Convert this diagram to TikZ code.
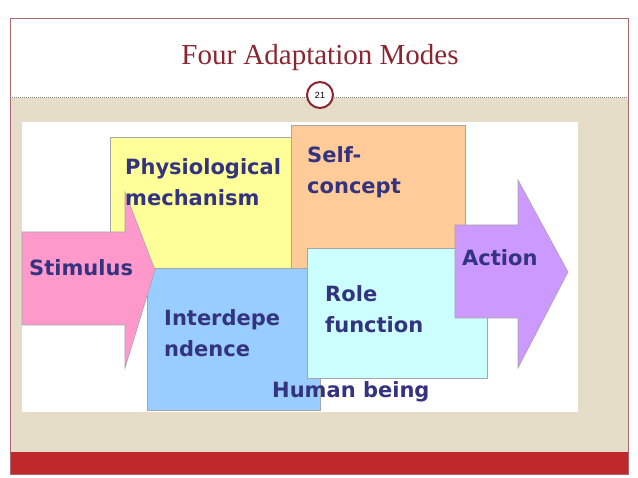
\documentclass[tikz,border=0pt]{standalone}
\usepackage{fontspec}
\setmainfont{Liberation Serif}
\newfontfamily\lbl{DejaVu Sans}
\newfontfamily\numf{Liberation Sans}
\definecolor{tan}{HTML}{E6DDC8}
\definecolor{dred}{HTML}{8B2630}
\definecolor{barred}{HTML}{C0292C}
\definecolor{txt}{HTML}{333380}
\definecolor{yel}{HTML}{FFFF99}
\definecolor{ora}{HTML}{FFCC99}
\definecolor{blu}{HTML}{99CCFF}
\definecolor{cya}{HTML}{CCFFFF}
\definecolor{pnk}{HTML}{FF99CC}
\definecolor{pur}{HTML}{CC99FF}
\tikzset{
 box/.style={draw=gray!70,line width=0.6pt},
 lab/.style={font=\lbl\bfseries\fontsize{21}{31}\selectfont,text=txt,align=left,anchor=north west,inner sep=0pt}
}
\begin{document}
\begin{tikzpicture}[x=1pt,y=-1pt]
\useasboundingbox (0,0) rectangle (638,478);
\fill[white] (0,0) rectangle (638,478);
\fill[tan] (10,98) rectangle (628,452);
\fill[barred] (10,452) rectangle (628,474);
\draw[dred!70,line width=0.5pt] (10,18) rectangle (628,474);
\draw[gray,dashed,line width=0.5pt,dash pattern=on 1pt off 1pt] (10,97) -- (628,97);
\node[text=dred,font=\fontsize{29}{34}\selectfont] (title) at (320,58) {Four Adaptation Modes};
\node[circle,draw=dred,line width=2pt,fill=white,minimum size=26pt,inner sep=0pt,font=\numf\fontsize{9}{10}\selectfont] (num) at (320,95) {21};
\fill[white] (22,122) rectangle (578,412);
% boxes
\draw[box,fill=yel] (110,137) rectangle (315,268);
\draw[box,fill=ora] (291,125) rectangle (465,275);
\draw[box,fill=blu] (147,268) rectangle (320,410);
\draw[box,fill=cya] (307,248) rectangle (487,378);
% arrows
\draw[box,fill=pnk] (22,232) -- (125,232) -- (125,192) -- (155,270) -- (125,368) -- (125,325) -- (22,325) -- cycle;
\draw[box,fill=pur] (455,225) -- (518,225) -- (518,180) -- (568,272) -- (518,368) -- (518,318) -- (455,318) -- cycle;
% labels
\node[lab] (phys) at (125,158) {Physiological\\mechanism};
\node[lab] (self) at (307,146) {Self-\\concept};
\node[lab] (stim) at (29,259) {Stimulus};
\node[lab] (act) at (462,249) {Action};
\node[lab] (role) at (325,285) {Role\\function};
\node[lab] (inter) at (164,309) {Interdepe\\ndence};
\node[lab] (human) at (272,381) {Human being};
\end{tikzpicture}
\end{document}
